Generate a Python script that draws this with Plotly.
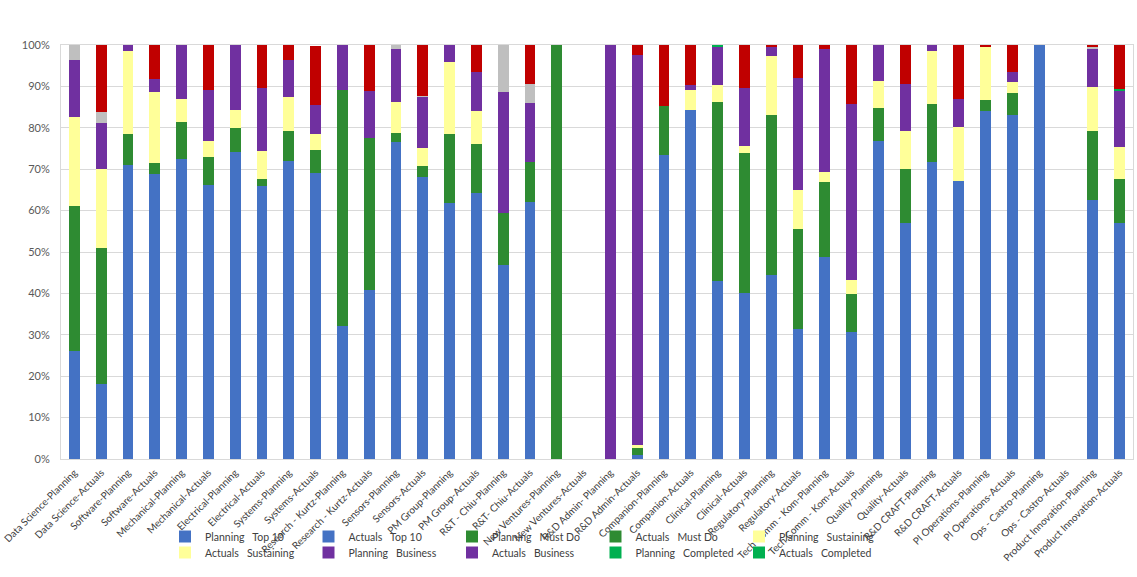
import plotly.graph_objects as go

categories = [
    "Data Science-Planning", "Data Science-Actuals", "Software-Planning", "Software-Actuals",
    "Mechanical-Planning", "Mechanical-Actuals", "Electrical-Planning", "Electrical-Actuals",
    "Systems-Planning", "Systems-Actuals", "Research - Kurtz-Planning", "Research - Kurtz-Actuals",
    "Sensors-Planning", "Sensors-Actuals", "PM Group-Planning", "PM Group-Actuals",
    "R&T - Chiu-Planning", "R&T- Chiu-Actuals", "New Ventures-Planning", "New Ventures-Actuals",
    "R&D Admin- Planning", "R&D Admin-Actuals", "Companion-Planning", "Companion-Actuals",
    "Clinical-Planning", "Clinical-Actuals", "Regulatory-Planning", "Regulatory-Actuals",
    "Tech Comm - Kom-Planning", "Tech Comm - Kom-Actuals", "Quality-Planning", "Quality-Actuals",
    "R&D CRAFT-Planning", "R&D CRAFT-Actuals", "PI Operations-Planning", "PI Operations-Actuals",
    "Ops - Castro-Planning", "Ops - Castro-Actuals", "Product Innovation-Planning", "Product Innovation-Actuals",
]

# percentage shares per category (stack order bottom -> top)
top10 = [26.0, 18.0, 70.9, 68.9, 72.5, 66.25, 74.2, 66.0, 72.05, 69.15, 32.2, 40.9,
         76.65, 68.2, 61.8, 64.2, 46.9, 62.15, 0, 0, 0, 1.05, 73.5, 84.35,
         42.9, 40.15, 44.5, 31.45, 48.9, 30.7, 76.85, 57.1, 71.8, 67.25, 83.95, 83.15,
         100, 0, 62.65, 57.1]
must_do = [35.2, 33.05, 7.65, 2.7, 8.95, 6.75, 5.8, 1.7, 7.25, 5.55, 56.95, 36.7,
           2.15, 2.6, 16.75, 11.95, 12.45, 9.65, 100, 0, 0, 1.7, 11.8, 0,
           43.35, 33.85, 38.65, 24.2, 18.1, 9.2, 7.95, 13.0, 14.0, 0, 2.8, 5.3,
           0, 0, 16.65, 10.6]
sustaining = [21.45, 19.05, 20.0, 17.1, 5.55, 3.85, 4.35, 6.75, 8.2, 3.85, 0, 0,
              7.5, 4.35, 17.35, 7.95, 0, 0, 0, 0, 0, 0.7, 0, 4.8,
              4.1, 1.65, 14.2, 9.4, 2.4, 3.4, 6.5, 9.2, 12.75, 13.0, 12.75, 2.65,
              0, 0, 10.65, 7.7]
business = [13.75, 11.1, 1.45, 3.1, 13.0, 12.3, 15.65, 15.2, 8.9, 6.85, 10.85, 11.3,
            12.75, 12.3, 4.1, 9.4, 29.35, 14.2, 0, 0, 100, 94.15, 0, 1.2,
            9.15, 14.0, 2.15, 27.0, 29.65, 42.5, 8.7, 11.3, 1.45, 6.75, 0, 2.4,
            0, 0, 9.15, 13.7]
completed = [0, 0, 0, 0, 0, 0, 0, 0, 0, 0, 0, 0,
             0, 0, 0, 0, 0, 0, 0, 0, 0, 0, 0, 0,
             0.5, 0, 0, 0, 0, 0, 0, 0, 0, 0, 0, 0,
             0, 0, 0, 0.25]
other_gray = [3.6, 2.65, 0, 0, 0, 0, 0, 0, 0, 0, 0, 0,
              0.95, 0.25, 0, 0, 11.3, 4.6, 0, 0, 0, 0, 0, 0,
              0, 0, 0, 0, 0, 0, 0, 0, 0, 0, 0, 0,
              0, 0, 0.3, 0]
other_red = [0, 16.15, 0, 8.2, 0, 10.85, 0, 10.35, 3.6, 14.45, 0, 11.1,
             0, 12.3, 0, 6.5, 0, 9.4, 0, 0, 0, 2.4, 14.7, 9.65,
             0, 10.35, 0.5, 7.95, 0.95, 14.2, 0, 9.4, 0, 13.0, 0.5, 6.5,
             0, 0, 0.65, 10.6]

series = [
    ("Top 10", top10, "#4472C4", True),
    ("Must Do", must_do, "#2E8B32", True),
    ("Sustaining", sustaining, "#FFFF99", True),
    ("Business", business, "#7030A0", True),
    ("Completed", completed, "#00B050", True),
    ("Other", other_gray, "#BFBFBF", False),
    ("Unplanned", other_red, "#C00000", False),
]

FONT = "Lato, 'Open Sans', sans-serif"
NB = "\u00a0"

fig = go.Figure()
legend_idx = 0
for name, vals, color, show in series:
    for kind in ("Planning", "Actuals"):
        ys = [v if c.rstrip().endswith(kind) else None for c, v in zip(categories, vals)]
        leg = "legend" if legend_idx < 5 else "legend2"
        fig.add_trace(go.Bar(
            x=categories, y=ys,
            name=f"{kind}{NB}{NB}{NB}{name}",
            marker=dict(color=color, line=dict(width=0)),
            showlegend=show,
            legend=leg,
        ))
        if show:
            legend_idx += 1

W, H = 1137, 577
fig.update_layout(
    width=W, height=H,
    barmode="stack",
    bargap=0.6,
    plot_bgcolor="white",
    paper_bgcolor="white",
    margin=dict(l=61, r=4, t=45, b=118, pad=0),
    font=dict(family=FONT, size=11, color="#595959"),
    xaxis=dict(
        type="category", tickangle=-45, showgrid=False, automargin=False,
        showline=True, linecolor="#D9D9D9", linewidth=1, mirror=True,
        ticks="", tickfont=dict(size=10, color="#404040"),
        ticklabelstandoff=3,
    ),
    yaxis=dict(
        range=[0, 100], dtick=10, ticksuffix="%", automargin=False,
        showgrid=True, gridcolor="#D9D9D9", gridwidth=1,
        showline=True, linecolor="#D9D9D9", linewidth=1, mirror=True,
        ticks="", tickfont=dict(size=11, color="#595959"),
        ticklabelstandoff=8, zeroline=False,
    ),
    legend=dict(
        orientation="h", xref="container", yref="container",
        x=165 / W, y=1 - 522 / H, xanchor="left", yanchor="top",
        entrywidth=98.5, entrywidthmode="pixels",
        bgcolor="rgba(0,0,0,0)", font=dict(size=10.5, color="#404040"),
        traceorder="normal",
    ),
    legend2=dict(
        orientation="h", xref="container", yref="container",
        x=165 / W, y=1 - 538 / H, xanchor="left", yanchor="top",
        entrywidth=98.5, entrywidthmode="pixels",
        bgcolor="rgba(0,0,0,0)", font=dict(size=10.5, color="#404040"),
        traceorder="normal",
    ),
)

fig.write_html("out.html")
